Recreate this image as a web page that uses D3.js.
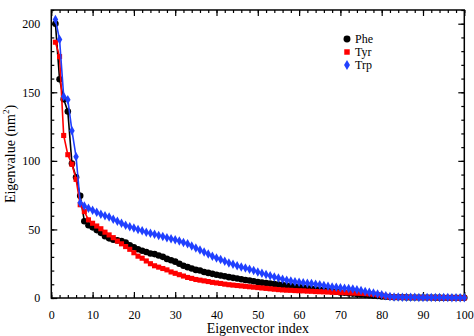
<!DOCTYPE html>
<html><head><meta charset="utf-8">
<script src="https://cdn.jsdelivr.net/npm/d3@7"></script>
<style>body{margin:0;background:#fff}svg{display:block}</style>
</head><body>
<svg id="c" width="474" height="336"></svg>
<script>
const seriesNames = ["Phe", "Tyr", "Trp"];
const seriesColors = ["#000000", "#ff0000", "#2040ff"];
const phe = [200,159.5,145,136,98,88,74.5,56,53,51.5,49.5,47.5,45,43.5,42.5,42,41.5,40.5,38.5,37,
35.5,34.5,33.5,32.5,32,31,30,28.5,27.5,26.5,25,23.5,22.5,21.5,20.5,20,19,18.3,17.6,17,
16.4,15.8,15.2,14.7,14.2,13.7,13.1,12.7,12.2,11.7,11.2,10.9,10.5,10.2,9.9,9.5,9.1,8.7,8.3,8.0,
7.6,7.2,6.8,6.4,6.0,5.6,5.2,4.9,4.5,4.1,3.8,3.5,3.2,2.9,2.6,2.3,2.0,1.7,1.4,1.1,
0.9,0.7,0.6,0.5,0.5,0.45,0.4,0.4,0.35,0.35,0.3,0.3,0.25,0.25,0.2,0.2,0.15,0.15,0.1,0.1];
const tyr = [186.5,176,118.5,104.5,97.5,86.5,68,63,57,54.5,52.5,50.5,48,46,44,41.5,39.5,37.5,35.5,33,
30.5,29,27,25,23.5,22.5,21.5,20.5,19,18,17,16,15,14.3,13.5,13,12.5,12,11.4,11,
10.6,10.1,9.7,9.4,9.1,8.8,8.5,8.2,7.9,7.6,7.3,7.0,6.7,6.4,6.1,5.9,5.7,5.6,5.4,5.3,
5.2,5.0,4.9,4.7,4.6,4.5,4.4,4.2,4.1,4.0,3.9,3.8,3.6,3.5,3.4,3.2,3.0,2.8,2.4,2.0,
1.2,0.7,0.6,0.5,0.5,0.45,0.4,0.4,0.35,0.35,0.3,0.3,0.25,0.25,0.2,0.2,0.15,0.15,0.1,0.1];
const trp = [203,188.5,147,144.5,122,103,69.5,67,65.5,64,62.5,61,60,59,57.5,56,54.5,53,52,51,
50,49,48,47.2,46.4,45.6,44.8,44,43.2,42.4,41.5,40.5,39.5,38,36.5,35,33.5,32,30.5,29.2,
28,26.8,25.6,24.6,23.6,22.6,21.8,21,20,19,18,17.2,16.3,15.4,14.5,13.7,13,12.4,11.9,11.5,
11.1,10.8,10.5,10.1,9.6,9.1,8.5,8.1,7.8,7.5,7.2,6.9,6.5,6.0,5.4,4.8,4.2,3.6,3.0,2.3,
1.6,1.1,0.8,0.7,0.6,0.55,0.5,0.5,0.45,0.45,0.4,0.4,0.35,0.35,0.3,0.3,0.25,0.25,0.2,0.2];
const seriesValues = [phe, tyr, trp];
const xTicks = [0,10,20,30,40,50,60,70,80,90,100];
const yTicks = [0,50,100,150,200];

const svg = d3.select("#c");
const L = 51.3, R = 464.3, T = 10, B = 298;
const x = d3.scaleLinear().domain([0,100]).range([L,R]);
const y = d3.scaleLinear().domain([0,210]).range([B,T]);
const font = "'Liberation Serif','Times New Roman',serif";

// frame
svg.append("rect").attr("x",L).attr("y",T).attr("width",R-L).attr("height",B-T)
  .attr("fill","none").attr("stroke","#000").attr("stroke-width",1.5);

function axisG(gen, tx, ty){
  const g = svg.append("g").attr("transform",`translate(${tx},${ty})`).call(gen);
  g.select(".domain").remove();
  g.selectAll("line").attr("stroke","#000").attr("stroke-width",1.2);
  g.selectAll("text").attr("font-family",font).attr("font-size",12).attr("fill","#000");
  return g;
}
const xMinor = d3.range(0,101,2), yMinor = d3.range(0,211,10);
// bottom
axisG(d3.axisBottom(x).tickValues(xMinor).tickSize(-3).tickFormat(""),0,B);
axisG(d3.axisBottom(x).tickValues(xTicks).tickSize(-6).tickPadding(12).tickFormat(d3.format("d")),0,B);
// top
axisG(d3.axisTop(x).tickValues(xMinor).tickSize(-3).tickFormat(""),0,T);
axisG(d3.axisTop(x).tickValues(xTicks).tickSize(-6).tickFormat(""),0,T);
// left
axisG(d3.axisLeft(y).tickValues(yMinor).tickSize(-3).tickFormat(""),L,0);
axisG(d3.axisLeft(y).tickValues(yTicks).tickSize(-6).tickPadding(11).tickFormat(d3.format("d")),L,0);
// right
axisG(d3.axisRight(y).tickValues(yMinor).tickSize(-3).tickFormat(""),R,0);
axisG(d3.axisRight(y).tickValues(yTicks).tickSize(-6).tickFormat(""),R,0);

// axis titles
svg.append("text").attr("x",(L+R)/2).attr("y",333).attr("text-anchor","middle")
  .attr("font-family",font).attr("font-size",14).text("Eigenvector index");
const yl = svg.append("text").attr("transform",`translate(15,${(T+B)/2}) rotate(-90)`)
  .attr("text-anchor","middle").attr("font-family",font).attr("font-size",14);
yl.append("tspan").text("Eigenvalue (nm");
yl.append("tspan").attr("font-size",9).attr("dy",-6).text("2");
yl.append("tspan").attr("dy",6).text(")");

// series
const symbols = [d3.symbolCircle, d3.symbolSquare, d3.symbolDiamond];
const sizes = [34, 26, 26];
const line = d3.line().x((d,i)=>x(i+1)).y(d=>y(d));
seriesValues.forEach((vals,k)=>{
  const g = svg.append("g");
  g.append("path").attr("d",line(vals)).attr("fill","none")
    .attr("stroke",seriesColors[k]).attr("stroke-width",1.6);
  g.selectAll("path.m").data(vals).join("path").attr("class","m")
    .attr("transform",(d,i)=>`translate(${x(i+1)},${y(d)})`)
    .attr("d",d3.symbol().type(symbols[k]).size(sizes[k]))
    .attr("fill",seriesColors[k]);
});

// legend
seriesNames.forEach((n,k)=>{
  const ly = 39 + k*13;
  svg.append("path").attr("transform",`translate(347,${ly})`)
    .attr("d",d3.symbol().type(symbols[k]).size(sizes[k]+4)).attr("fill",seriesColors[k]);
  svg.append("text").attr("x",355).attr("y",ly+4).attr("font-family",font)
    .attr("font-size",12).text(n);
});
</script>
</body></html>
